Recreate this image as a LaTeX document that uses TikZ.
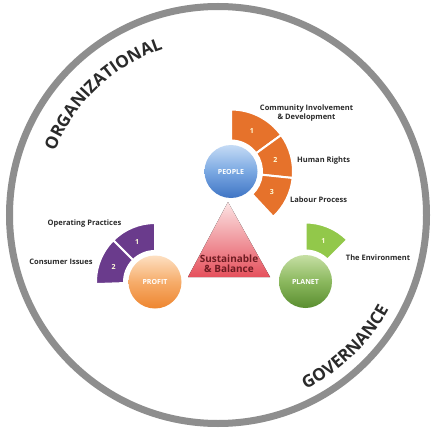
\documentclass[tikz,border=0pt]{standalone}
\usepackage{fontspec}
\setmainfont{Open Sans}
\usetikzlibrary{decorations.text}
\definecolor{ringgray}{HTML}{8E8E8E}
\definecolor{txtdark}{HTML}{2A2A2A}
\definecolor{sorange}{HTML}{E6722B}
\definecolor{spurple}{HTML}{6A3B8C}
\definecolor{sgreen}{HTML}{92C84A}
\definecolor{maroon}{HTML}{6E1C22}
\definecolor{peopletop}{HTML}{C5DBF5}
\definecolor{peoplemid}{HTML}{7AA8E2}
\definecolor{peoplebot}{HTML}{3F74C4}
\definecolor{profittop}{HTML}{FDE0C2}
\definecolor{profitmid}{HTML}{F6AC6A}
\definecolor{profitbot}{HTML}{EE8630}
\definecolor{planettop}{HTML}{C6DFA4}
\definecolor{planetmid}{HTML}{8BB85E}
\definecolor{planetbot}{HTML}{5A8E30}
\definecolor{tritop}{HTML}{FCE4E4}
\definecolor{tribot}{HTML}{E5505C}
\tikzset{
  label/.style={font=\bfseries\fontsize{7.5}{9}\selectfont, text=txtdark, inner sep=0pt},
  num/.style={font=\bfseries\fontsize{7}{8}\selectfont, text=white!85!yellow, inner sep=0pt},
  ball/.style={circle, minimum size=53pt, inner sep=0pt, text=white,
     font=\bfseries\fontsize{7}{8}\selectfont, shading=axis},
  sect/.style={draw=white, line width=2pt, line join=round},
}
\newcommand\annsector[5]{% start, end, rin, rout, colour
  \filldraw[sect, fill=#5] (#1:#3) arc[start angle=#1, end angle=#2, radius=#3]
    -- (#2:#4) arc[start angle=#2, end angle=#1, radius=#4] -- cycle;}
\begin{document}
\begin{tikzpicture}[x=1pt,y=1pt]
\useasboundingbox (-218,-221) rectangle (220,215);
\fill[white] (-218,-221) rectangle (220,215);
\draw[ringgray, line width=7pt] (0,0) circle[radius=208.5];

% curved titles
\path[decorate, decoration={text along path, text align=center,
  text={|\bfseries\fontsize{17}{20}\selectfont\color{txtdark}|ORGANIZATIONAL}}]
  (163.5:175) arc[start angle=163.5, end angle=103.5, radius=175];
\path[decorate, decoration={text along path, text align=center,
  text={|\bfseries\fontsize{17}{20}\selectfont\color{txtdark}|GOVERNANCE}}]
  (-76:195) arc[start angle=-76, end angle=-16, radius=195];

% PEOPLE sectors
\begin{scope}[shift={(13,43.5)}]
  \annsector{90}{36}{31}{62}{sorange}
  \annsector{36}{-6}{31}{62}{sorange}
  \annsector{-6}{-47}{31}{62}{sorange}
  \node[num] (p1) at (63:46) {1};
  \node[num] (p2) at (15:46) {2};
  \node[num] (p3) at (-27:46) {3};
\end{scope}
% PROFIT sectors
\begin{scope}[shift={(-63,-67)}]
  \annsector{90}{135}{31}{59}{spurple}
  \annsector{135}{182}{31}{59}{spurple}
  \node[num] (r1) at (114:44) {1};
  \node[num] (r2) at (160:44) {2};
\end{scope}
% PLANET sector
\begin{scope}[shift={(87.5,-66.5)}]
  \annsector{90}{45}{31}{59}{sgreen}
  \node[num] (g1) at (66:44) {1};
\end{scope}

% triangle
\fill[top color=tritop, bottom color=tribot]
  (10,13) -- (-30,-62) -- (52,-62) -- cycle;
\node[font=\bfseries\fontsize{10}{11}\selectfont, text=maroon, align=center, inner sep=0pt]
  (sb) at (11,-48.5) {Sustainable\\[-1.5pt]\& Balance};

% balls
\node[ball, top color=peopletop, bottom color=peoplebot, middle color=peoplemid] (people) at (13,43.5) {PEOPLE};
\node[ball, top color=profittop, bottom color=profitbot, middle color=profitmid] (profit) at (-63,-67) {PROFIT};
\node[ball, top color=planettop, bottom color=planetbot, middle color=planetmid] (planet) at (87.5,-66.5) {PLANET};

% labels
\node[label, align=center] (community) at (88.5,101.5) {Community Involvement\\\& Development};
\node[label, anchor=west] (human) at (79,54) {Human Rights};
\node[label, anchor=west] (labour) at (72,15) {Labour Process};
\node[label] (operating) at (-133.5,-9) {Operating Practices};
\node[label] (consumer) at (-157,-47) {Consumer Issues};
\node[label] (env) at (160,-43) {The Environment};
\end{tikzpicture}
\end{document}
